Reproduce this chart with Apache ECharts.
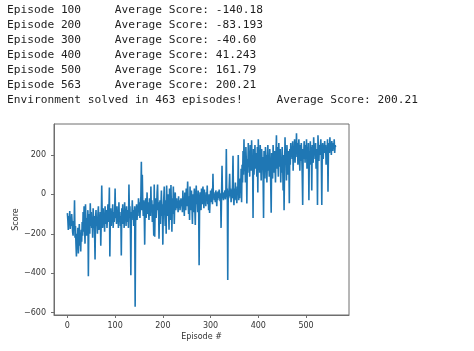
<!DOCTYPE html>
<html>
<head>
<meta charset="utf-8">
<script src="https://cdn.jsdelivr.net/npm/echarts@6/dist/echarts.min.js"></script>
<style>
  html, body { margin: 0; padding: 0; background: #fff; }
  #main { width: 474px; height: 351px; }
</style>
</head>
<body>
<div id="main"></div>
<script>
// training log printed above the plot
var logLines = [
  "Episode 100     Average Score: -140.18",
  "Episode 200     Average Score: -83.193",
  "Episode 300     Average Score: -40.60",
  "Episode 400     Average Score: 41.243",
  "Episode 500     Average Score: 161.79",
  "Episode 563     Average Score: 200.21",
  "Environment solved in 463 episodes!     Average Score: 200.21"
];

// score per episode (563 episodes)
var scores = [
  -95, -130, -180, -110, -150, -85, -175, -120, -160, -100,
  -140, -190, -210, -135, -175, -30, -220, -160, -250, -315,
  -200, -280, -170, -300, -230, -150, -260, -195, -290, -180,
  -240, -140, -210, -90, -190, -60, -170, -250, -50, -150,
  -210, -120, -180, -80, -415, -140, -100, -200, -45, -160,
  -90, -170, -130, -220, -70, -150, -110, -190, -330, -120,
  -80, -160, -140, -200, -100, -60, -180, -120, -150, -90,
  -260, -130, 45, -110, -170, -70, -140, -100, -190, -60,
  -150, -120, -80, -170, -110, -50, -140, -90, 35, -315,
  -120, -70, -160, -100, -130, -50, -170, -90, -140, -110,
  30, -120, -80, -150, -60, -130, -100, -170, -40, -140,
  -90, -160, -110, -310, -70, -130, -50, -150, -100, -170,
  -40, -120, -90, -160, -60, -140, -80, -110, -170, 50,
  -100, -60, -150, -410, -90, -130, -30, -120, -80, -160,
  -110, -60, -570, -140, -90, -50, -130, -70, -110, -20,
  -90, -40, -120, -60, -10, 165, -80, 100, -50, -110,
  -30, -90, -255, -60, -20, -120, -70, 10, -100, -40,
  -80, -130, -20, -60, -110, 40, -90, -30, -140, -50,
  -100, -210, 50, -215, -60, -20, -120, -70, 10, 50,
  -80, -40, -225, -100, -30, -150, -60, 20, -110, -50,
  -255, -70, -20, 40, -90, -160, -30, -200, 45, -60,
  -110, 0, -80, -180, 30, -40, -130, 48, -70, -190,
  -20, -100, 40, -60, -150, -30, 10, -80, -50, -20,
  -70, -40, -90, -10, -60, -30, -80, -50, -20, -60,
  -40, -90, 20, -70, -30, -110, 10, -50, -80, 30,
  -60, -20, 65, -40, -100, -10, -130, 40, -50, -80,
  20, -60, -150, 0, -90, -30, 30, -70, -155, -20,
  45, -50, -10, -90, 20, -40, -360, -60, 10, -30,
  -80, 30, -20, -50, 40, -10, -70, 25, -40, -20,
  -60, 10, -30, 45, -50, -10, -80, 0, -95, -30,
  20, -40, -10, 30, -50, 105, -20, 10, -30, 0,
  -40, 20, -15, -60, 10, -30, 15, -20, 25, -10,
  -35, 5, -170, -10, 145, -20, 10, -30, 0, -15,
  20, -25, -5, 230, -10, 30, -435, 20, -20, 40,
  105, -10, 30, -40, 20, -20, 50, 196, -10, -55,
  30, -30, 60, -20, 10, -45, 40, 0, 200, -30,
  50, -20, 80, 10, 130, -40, 150, 60, 220, 100,
  280, 120, 200, 60, 240, 160, -46, 180, 110, 260,
  150, 220, 90, 250, 170, 120, 275, 140, 200, -120,
  230, 100, 180, 250, 130, 210, 160, 90, 240, 10,
  280, 150, 200, 110, 250, 170, 70, 230, 140, 190,
  100, -120, 220, 160, 80, 240, 130, 200, 60, 180,
  250, 120, 170, 90, 230, 150, 60, -93, 210, 140,
  80, 250, 170, 110, 220, 150, 60, 200, 300, 130,
  240, 170, 90, 260, 140, 200, 230, 60, 180, 110,
  240, 160, 20, 200, -80, 130, 290, 150, 230, 70,
  250, 180, 100, 220, 160, -45, 230, 150, 260, 200,
  240, 180, 270, 120, 230, 200, 280, 160, 250, 210,
  310, 190, 260, 150, 240, 280, 200, 120, 250, 170,
  260, 210, 100, -54, 230, 180, 270, 220, 160, 250,
  200, 280, 130, 240, 190, 260, -30, 220, 150, 270,
  180, 240, 20, 250, 200, 160, 290, 210, 240, 180,
  260, 130, 230, 200, -54, 300, 220, 170, 250, 200,
  240, 280, 190, -54, 230, 260, 180, 250, 210, 270,
  220, 250, 150, 240, 200, 280, 13, 230, 260, 210,
  290, 230, 250, 200, 270, 240, 220, 260, 230, 280,
  210, 250, 240
];

var xTicks = [0, 100, 200, 300, 400, 500];
var yTicks = [-600, -400, -200, 0, 200];

var chart = echarts.init(document.getElementById('main'));

var lineData = scores.map(function (v, i) { return [i, v]; });

var axisGray = '#6e6e6e';
var labelFont = { fontFamily: 'DejaVu Sans', fontSize: 8, color: '#333' };

var graphics = logLines.map(function (t, i) {
  return {
    type: 'text',
    left: 7,
    top: 5 + i * 14.9,
    style: {
      text: t,
      font: '11.2px "DejaVu Sans Mono"',
      fill: '#1e1e1e'
    }
  };
});

var option = {
  backgroundColor: '#fff',
  animation: false,
  graphic: graphics,
  grid: {
    left: 54, top: 124, width: 295, height: 191,
    show: true, borderColor: axisGray, borderWidth: 1,
    containLabel: false,
    outerBoundsMode: 'none'
  },
  xAxis: {
    type: 'value',
    min: -28, max: 590,
    name: 'Episode #',
    nameLocation: 'middle',
    nameGap: 18,
    nameMoveOverlap: false,
    nameTextStyle: labelFont,
    splitLine: { show: false },
    axisLine: { show: true, onZero: false, lineStyle: { color: axisGray } },
    axisTick: { show: true, length: 3, customValues: xTicks, lineStyle: { color: axisGray } },
    axisLabel: Object.assign({ margin: 7, customValues: xTicks }, labelFont)
  },
  yAxis: {
    type: 'value',
    min: -612, max: 357,
    name: 'Score',
    nameLocation: 'middle',
    nameGap: 34,
    nameMoveOverlap: false,
    nameTextStyle: labelFont,
    splitLine: { show: false },
    axisLine: { show: true, onZero: false, lineStyle: { color: axisGray } },
    axisTick: { show: true, length: 3, customValues: yTicks, lineStyle: { color: axisGray } },
    axisLabel: Object.assign({ margin: 8, customValues: yTicks,
      formatter: function (v) { return String(v).replace('-', '\u2212'); } }, labelFont)
  },
  series: [{
    type: 'line',
    data: lineData,
    showSymbol: false,
    symbol: 'none',
    lineStyle: { color: '#1f77b4', width: 1.6 }
  }]
};

chart.setOption(option);
</script>
</body>
</html>
